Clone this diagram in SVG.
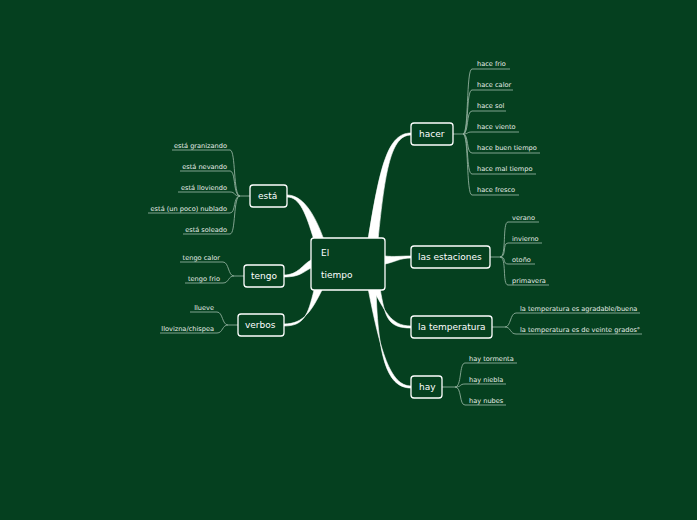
<svg xmlns="http://www.w3.org/2000/svg" width="697" height="520" viewBox="0 0 697 520">
<style>
.n rect{fill:#05401f;stroke:#fff;stroke-width:1.3}
.n text{fill:#fff;font-family:"DejaVu Sans",sans-serif;font-size:9px}
.l{fill:#e8efe9;font-family:"DejaVu Sans",sans-serif;font-size:6.6px}
.r{text-anchor:end}
.c path.t{fill:none;stroke:#8fae9b;stroke-width:0.9}
.c path.b{fill:#fff;stroke:#fff;stroke-width:0.6}
</style>
<rect width="697" height="520" fill="#05401f"/>
<g class="c">
<path class="b" d="M368 240 C380 165 388 133 411 133 L411 135 C391 135 385 170 378 240 Z"/>
<path class="b" d="M385 256 C395 257 400 256 411 256 L411 258 C400 258 395 262 385 264 Z"/>
<path class="b" d="M372 288 C385 310 390 326 411 326 L411 328 C388 328 385 318 380 288 Z"/>
<path class="b" d="M368 288 C380 350 390 386 411 386 L411 388 C388 388 378 360 376 288 Z"/>
<path class="b" d="M324 240 C314 212 302 195 287 195 L287 197 C300 197 306 214 314 240 Z"/>
<path class="b" d="M311 260 C302 265 298 275 284 275 L284 277 C300 277 303 272 311 268 Z"/>
<path class="b" d="M322 290 C312 310 304 324 284 324 L284 326 C304 326 308 315 314 290 Z"/>
<path class="t" d="M453 134 H463 M463 134 C469 134 466 69 472 69 H510 M463 134 C469 134 466 90 472 90 H513 M463 134 C469 134 466 111 472 111 H506 M463 134 C469 134 466 132 472 132 H519 M463 134 C469 134 466 153 472 153 H540 M463 134 C469 134 466 174 472 174 H536 M463 134 C469 134 466 195 472 195 H519"/>
<path class="t" d="M490 257 H500 M500 257 C507 257 502 222 508 222 H539 M500 257 C507 257 502 243 508 243 H542 M500 257 C507 257 502 264 508 264 H535 M500 257 C507 257 502 285 508 285 H549"/>
<path class="t" d="M492 327 H505 M505 327 C511 327 510 313 516 313 H640 M505 327 C511 327 510 334 516 334 H642"/>
<path class="t" d="M442 387 H455 M455 387 C462 387 459 363 465 363 H517 M455 387 C462 387 459 384 465 384 H506 M455 387 C462 387 459 405 465 405 H506"/>
<path class="t" d="M250 196 H240 M240 196 C233 196 236 150 230 150 H172 M240 196 C233 196 236 171 230 171 H180 M240 196 C233 196 236 192 230 192 H178 M240 196 C233 196 236 213 230 213 H148 M240 196 C233 196 236 234 230 234 H183"/>
<path class="t" d="M244 276 H234 M234 276 C228 276 229 262 223 262 H180 M234 276 C228 276 229 283 223 283 H185"/>
<path class="t" d="M238 325 H228 M228 325 C222 325 223 312 217 312 H190 M228 325 C222 325 223 333 217 333 H160"/>
</g>
<g id="center" class="n"><rect x="311" y="238" width="74" height="52" rx="3"/><text x="321" y="256" font-size="11">El</text><text x="321" y="278" font-size="11">tiempo</text></g>
<g id="hacer" class="n"><rect x="411" y="123" width="42" height="22" rx="3"/><text x="419" y="137">hacer</text></g>
<g id="estaciones" class="n"><rect x="411" y="246" width="79" height="22" rx="3"/><text x="418" y="260">las estaciones</text></g>
<g id="temperatura" class="n"><rect x="411" y="316" width="81" height="22" rx="3"/><text x="418" y="330">la temperatura</text></g>
<g id="hay" class="n"><rect x="411" y="376" width="31" height="22" rx="3"/><text x="419" y="390">hay</text></g>
<g id="esta" class="n"><rect x="250" y="185" width="37" height="22" rx="3"/><text x="258" y="199">está</text></g>
<g id="tengo" class="n"><rect x="244" y="265" width="40" height="22" rx="3"/><text x="251" y="279">tengo</text></g>
<g id="verbos" class="n"><rect x="238" y="314" width="46" height="22" rx="3"/><text x="245" y="328">verbos</text></g>
<g id="leaves">
<text class="l" x="477" y="66">hace frio</text>
<text class="l" x="477" y="87">hace calor</text>
<text class="l" x="477" y="108">hace sol</text>
<text class="l" x="477" y="129">hace viento</text>
<text class="l" x="477" y="150">hace buen tiempo</text>
<text class="l" x="477" y="171">hace mal tiempo</text>
<text class="l" x="477" y="192">hace fresco</text>
<text class="l" x="512" y="220">verano</text>
<text class="l" x="512" y="241">invierno</text>
<text class="l" x="512" y="262">otoño</text>
<text class="l" x="512" y="283">primavera</text>
<text class="l" x="520" y="311">la temperatura es agradable/buena</text>
<text class="l" x="520" y="332">la temperatura es de veinte grados°</text>
<text class="l" x="469" y="361">hay tormenta</text>
<text class="l" x="469" y="382">hay niebla</text>
<text class="l" x="469" y="403">hay nubes</text>
<text class="l r" x="227" y="148">está granizando</text>
<text class="l r" x="227" y="169">está nevando</text>
<text class="l r" x="227" y="190">está lloviendo</text>
<text class="l r" x="227" y="211">está (un poco) nublado</text>
<text class="l r" x="227" y="232">está soleado</text>
<text class="l r" x="220" y="260">tengo calor</text>
<text class="l r" x="220" y="281">tengo frio</text>
<text class="l r" x="214" y="310">llueve</text>
<text class="l r" x="214" y="331">llovizna/chispea</text>
</g>
</svg>
